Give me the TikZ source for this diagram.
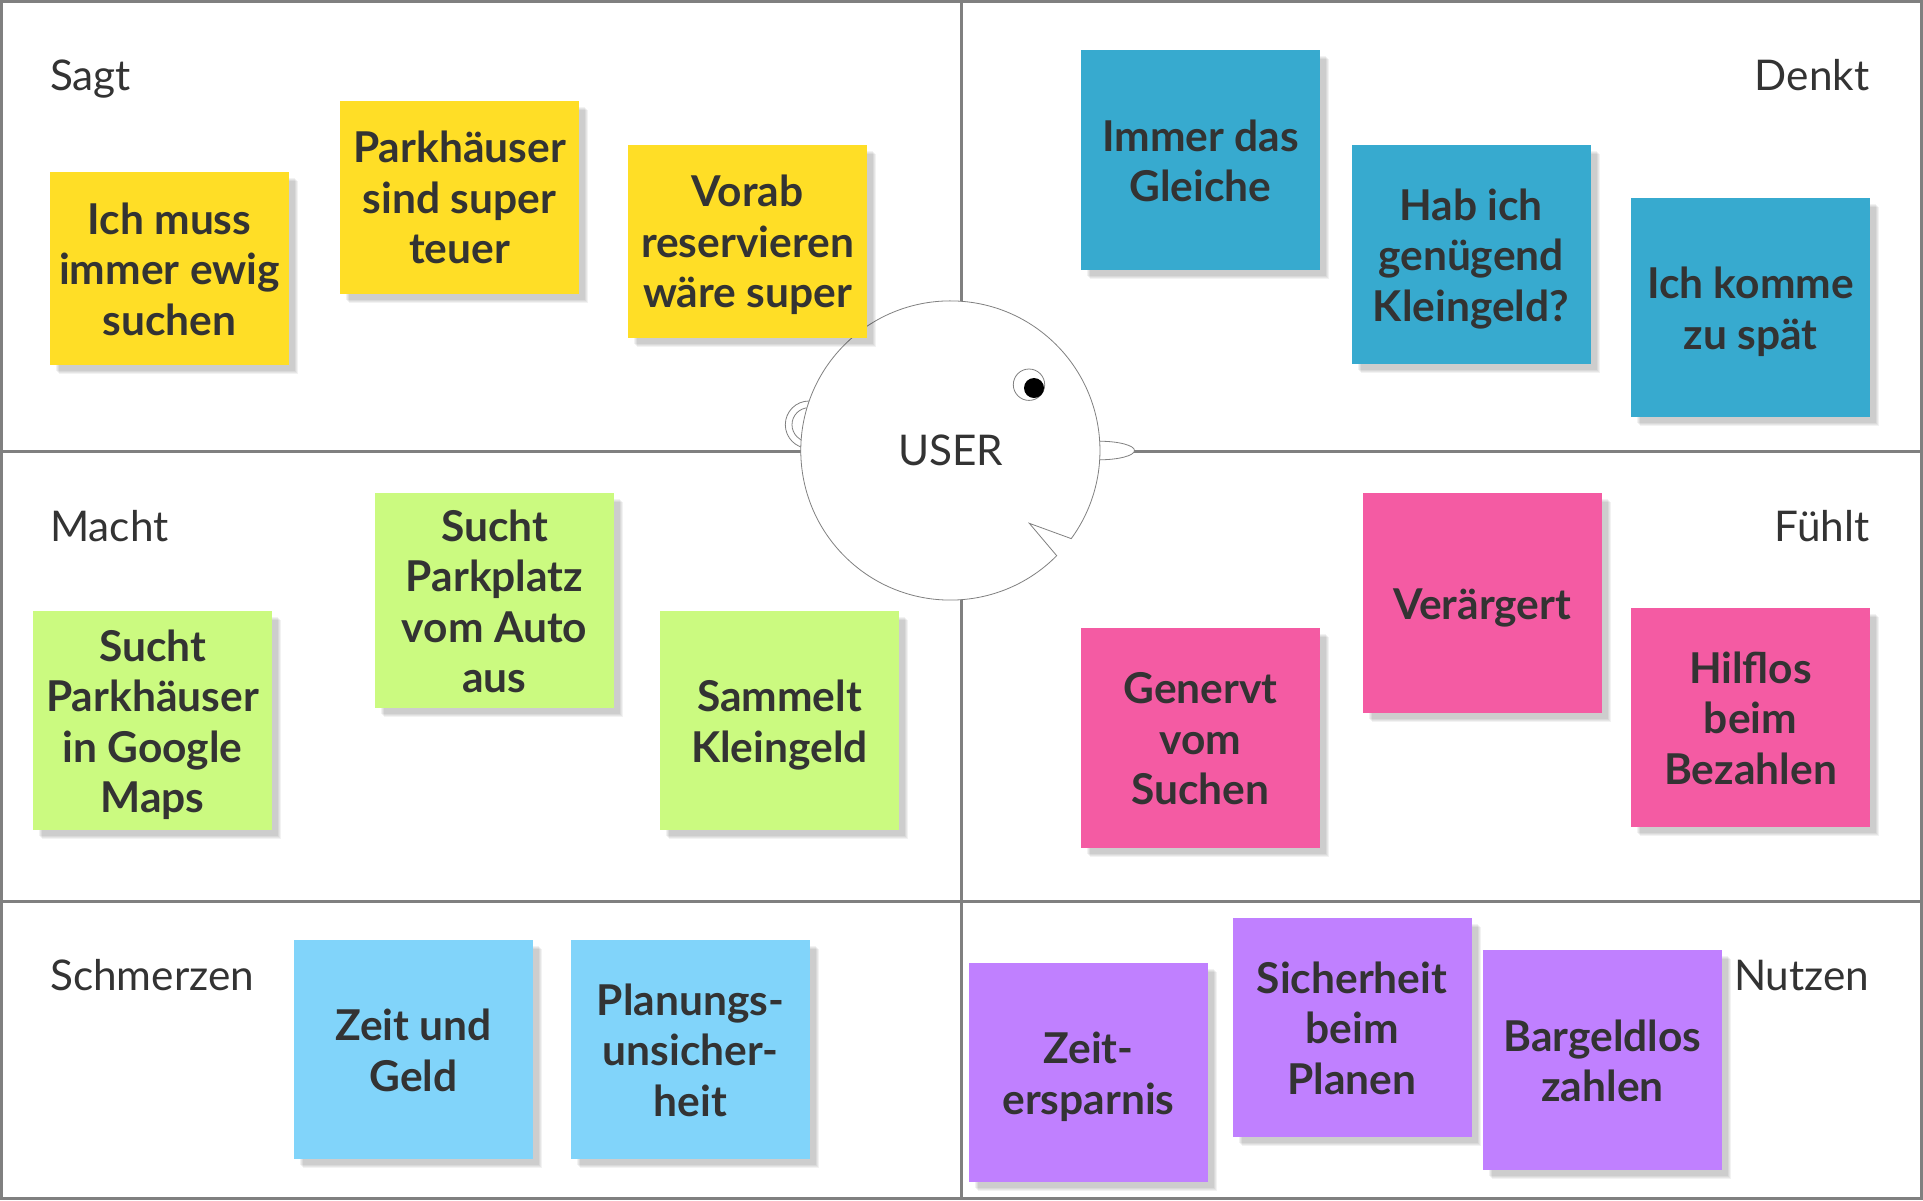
\documentclass[tikz,border=0pt]{standalone}
\usepackage{fontspec}
\setmainfont{Lato}
\usetikzlibrary{shadows}
\definecolor{txt}{HTML}{333333}
\definecolor{grid}{HTML}{808080}
\definecolor{cyellow}{HTML}{FFDE26}
\definecolor{cblue}{HTML}{37AACF}
\definecolor{cgreen}{HTML}{CBFA80}
\definecolor{cpink}{HTML}{F45BA3}
\definecolor{csky}{HTML}{81D4FA}
\definecolor{cpurple}{HTML}{C080FF}
\newcommand{\linestrut}{\rule[-8.9pt]{0pt}{50.4pt}}
\tikzset{
  gridline/.style={draw=grid,line width=3pt},
  thin line/.style={draw=black!50,line width=0.8pt,fill=white},
  soft/.style={general shadow={shadow xshift=#1,shadow yshift=-#1,fill=black,fill opacity=0.05}},
  sticky/.style={inner sep=0pt,outer sep=0pt,text width=239pt,align=flush center,text=txt,
    font=\fontsize{42.5}{50.4}\selectfont\bfseries,
    execute at begin node=\linestrut,execute at end node=\linestrut,
    soft=9pt,soft=8pt,soft=7pt,soft=6pt},
  tall/.style={minimum height=219.5pt},
  short/.style={minimum height=193pt},
  lab/.style={inner sep=0pt,text=txt,font=\fontsize{42.3}{50}\selectfont,anchor=base west},
  labr/.style={lab,anchor=base east}
}
\begin{document}
\begin{tikzpicture}[x=1pt,y=-1pt]
\useasboundingbox (0,0) rectangle (1923,1200);
\fill[white] (0,0) rectangle (1923,1200);
\draw[gridline] (1.5,1.5) rectangle (1921.5,1198.5);
\draw[gridline] (961.5,1.5) -- (961.5,1198.5);
\draw[gridline] (1.5,451) -- (1921.5,451);
\draw[gridline] (1.5,901.5) -- (1921.5,901.5);
% ear
\draw[thin line] (809,424.7) circle[radius=23.7];
\draw[thin line] (809,424.7) circle[radius=17];
% beak
\draw[thin line] (1099,450.5) ellipse[x radius=35.5,y radius=9.3];
% head with mouth
\coordinate (ma) at (1056.7,555.7);
\coordinate (mb) at (1071,538.3);
\coordinate (mc) at (1029.3,523.3);
\draw[thin line] (ma) arc[start angle=44.7,end angle=396.1,radius=149.6] -- (mc) -- cycle;
% eye
\draw[thin line] (1029,384.7) circle[radius=15.7];
\fill[black] (1034,388) circle[radius=10];
\node[inner sep=0pt,text=txt,font=\fontsize{42.3}{50}\selectfont,anchor=base] (user) at (950.5,465) {USER};
% labels
\node[lab] (sagt) at (50,90) {Sagt};
\node[labr] (denkt) at (1869.5,90) {Denkt};
\node[lab] (macht) at (50,541) {Macht};
\node[labr] (fuehlt) at (1869.5,541) {Fühlt};
\node[lab] (schmerzen) at (50,990) {Schmerzen};
\node[labr] (nutzen) at (1869.5,990) {Nutzen};
% yellow
\node[sticky,short,fill=cyellow] (a) at (169.5,268.5) {Ich muss\\immer ewig\\suchen};
\node[sticky,short,fill=cyellow] (b) at (459.5,197) {Parkhäuser\\sind super\\teuer};
\node[sticky,short,fill=cyellow] (c) at (747.5,241) {Vorab\\reservieren\\wäre super};
% blue
\node[sticky,tall,fill=cblue] (d) at (1200.5,160) {Immer das\\Gleiche};
\node[sticky,tall,fill=cblue] (e) at (1471,254.5) {Hab ich\\genügend\\Kleingeld?};
\node[sticky,tall,fill=cblue] (f) at (1750.5,307.5) {Ich komme\\zu spät};
% green
\node[sticky,tall,fill=cgreen] (g) at (152.5,720.5) {Sucht\\Parkhäuser\\in Google\\Maps};
\node[sticky,minimum height=215pt,fill=cgreen] (h) at (494.5,600.5) {Sucht\\Parkplatz\\vom Auto\\aus};
\node[sticky,tall,fill=cgreen] (i) at (779.5,720.5) {Sammelt\\Kleingeld};
% pink
\node[sticky,tall,fill=cpink] (j) at (1482,603) {Verärgert};
\node[sticky,tall,fill=cpink] (k) at (1200.5,738) {Genervt\\vom\\Suchen};
\node[sticky,tall,fill=cpink] (l) at (1750.5,717.5) {Hilflos\\beim\\Bezahlen};
% sky
\node[sticky,tall,fill=csky] (m) at (413.5,1049.5) {Zeit und\\Geld};
\node[sticky,tall,fill=csky] (n) at (690.5,1049.5) {Planungs-\\unsicher-\\heit};
% purple
\node[sticky,tall,fill=cpurple] (o) at (1088.5,1072.5) {Zeit-\\ersparnis};
\node[sticky,tall,fill=cpurple] (p) at (1352,1027.5) {Sicherheit\\beim\\Planen};
\node[sticky,tall,fill=cpurple] (q) at (1602.5,1060) {Bargeldlos\\zahlen};
\end{tikzpicture}
\end{document}
